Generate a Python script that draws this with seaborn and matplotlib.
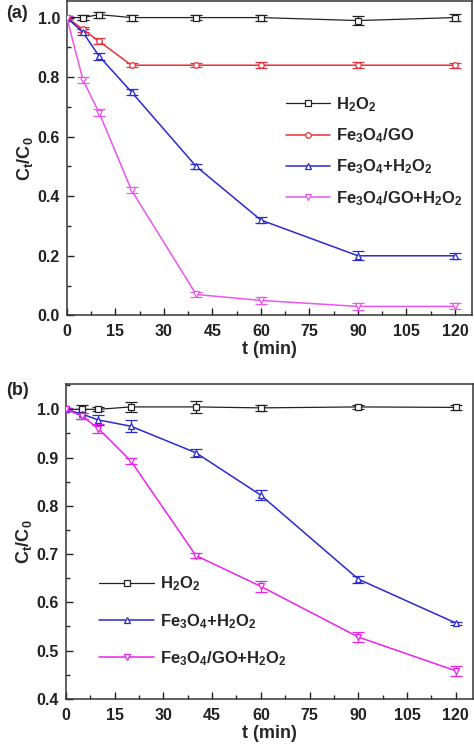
import pandas as pd
import matplotlib
matplotlib.use('Agg')
import matplotlib.pyplot as plt
import seaborn as sns
from matplotlib.ticker import MultipleLocator, FormatStrFormatter

# ---- data ----
t = [0, 5, 10, 20, 40, 60, 90, 120]

# panel (a)
a_h2o2 = [1.00, 1.00, 1.01, 1.00, 1.00, 1.00, 0.99, 1.00]
a_h2o2_err = [0.005, 0.008, 0.010, 0.010, 0.008, 0.010, 0.015, 0.012]
a_fego = [1.00, 0.96, 0.92, 0.84, 0.84, 0.84, 0.84, 0.84]
a_fego_err = [0.005, 0.010, 0.010, 0.006, 0.006, 0.010, 0.010, 0.008]
a_fe_h = [1.00, 0.95, 0.87, 0.75, 0.50, 0.32, 0.20, 0.20]
a_fe_h_err = [0.005, 0.010, 0.012, 0.010, 0.008, 0.010, 0.015, 0.010]
a_fego_h = [1.00, 0.79, 0.68, 0.42, 0.07, 0.05, 0.03, 0.03]
a_fego_h_err = [0.005, 0.010, 0.012, 0.010, 0.008, 0.012, 0.012, 0.010]

# panel (b)
b_h2o2 = [1.000, 1.000, 1.000, 1.005, 1.005, 1.003, 1.005, 1.004]
b_h2o2_err = [0.003, 0.008, 0.004, 0.010, 0.012, 0.006, 0.004, 0.005]
b_fe_h = [1.000, 0.990, 0.978, 0.965, 0.910, 0.822, 0.648, 0.557]
b_fe_h_err = [0.003, 0.010, 0.010, 0.013, 0.008, 0.010, 0.007, 0.003]
b_fego_h = [1.000, 0.986, 0.960, 0.893, 0.697, 0.633, 0.528, 0.458]
b_fego_h_err = [0.003, 0.007, 0.010, 0.006, 0.006, 0.012, 0.010, 0.011]

lbl_h2o2 = r'H$_2$O$_2$'
lbl_fego = r'Fe$_3$O$_4$/GO'
lbl_fe_h = r'Fe$_3$O$_4$+H$_2$O$_2$'
lbl_fego_h = r'Fe$_3$O$_4$/GO+H$_2$O$_2$'

# ---- style ----
sns.set_theme(style='ticks')
plt.rcParams['font.family'] = ['Liberation Sans', 'DejaVu Sans']
plt.rcParams['font.weight'] = 'bold'
plt.rcParams['mathtext.fontset'] = 'custom'
plt.rcParams['mathtext.rm'] = 'Liberation Sans:bold'
plt.rcParams['mathtext.it'] = 'Liberation Sans:bold'
plt.rcParams['mathtext.bf'] = 'Liberation Sans:bold'

fig = plt.figure(figsize=(4.74, 7.49), dpi=100)
ax_a = fig.add_axes([0.141, 0.579, 0.855, 0.419])
ax_b = fig.add_axes([0.139, 0.067, 0.859, 0.420])


def draw(ax, y, err, color, marker, label, lw=1.1):
    ax.errorbar(t, y, yerr=err, fmt='none', ecolor=color, elinewidth=0.9,
                capsize=4.5, capthick=0.9, zorder=2)
    df = pd.DataFrame({'t': t, 'c': y})
    sns.lineplot(data=df, x='t', y='c', ax=ax, color=color, marker=marker,
                 markersize=4, markerfacecolor='white', markeredgecolor=color,
                 markeredgewidth=0.9, linewidth=lw, label=label, zorder=3)


draw(ax_a, a_h2o2, a_h2o2_err, '#222222', 's', lbl_h2o2, lw=0.9)
draw(ax_a, a_fego, a_fego_err, '#e8303a', 'o', lbl_fego)
draw(ax_a, a_fe_h, a_fe_h_err, '#2a2ad0', '^', lbl_fe_h)
draw(ax_a, a_fego_h, a_fego_h_err, '#ee55ee', 'v', lbl_fego_h)

draw(ax_b, b_h2o2, b_h2o2_err, '#222222', 's', lbl_h2o2, lw=0.9)
draw(ax_b, b_fe_h, b_fe_h_err, '#2a2ad0', '^', lbl_fe_h)
draw(ax_b, b_fego_h, b_fego_h_err, '#ee22ee', 'v', lbl_fego_h)

ax_a.set_ylim(0, 1.054)
ax_a.yaxis.set_major_locator(MultipleLocator(0.2))
ax_a.yaxis.set_minor_locator(MultipleLocator(0.1))
ax_b.set_ylim(0.4, 1.052)
ax_b.yaxis.set_major_locator(MultipleLocator(0.1))
ax_b.yaxis.set_minor_locator(MultipleLocator(0.05))

for ax in (ax_a, ax_b):
    ax.set_xlim(0, 125.3)
    ax.xaxis.set_major_locator(MultipleLocator(15))
    ax.xaxis.set_minor_locator(MultipleLocator(7.5))
    ax.tick_params(which='major', direction='in', length=5, width=1,
                   labelsize=11.5, colors='#222222', pad=5)
    ax.tick_params(axis='x', which='major', pad=6.5)
    ax.tick_params(which='minor', direction='in', length=3, width=1)
    ax.yaxis.set_major_formatter(FormatStrFormatter('%.1f'))
    for lab in ax.get_xticklabels() + ax.get_yticklabels():
        lab.set_fontweight('bold')
    for sp in ax.spines.values():
        sp.set_linewidth(1.1)
        sp.set_color('#333333')
    ax.set_xlabel('t (min)', fontsize=13, fontweight='bold', labelpad=1.5)
    ax.set_ylabel(r'C$_t$/C$_0$', fontsize=13, fontweight='bold', labelpad=2)

ax_a.legend(loc='upper left', bbox_to_anchor=(0.585, 0.884),
            bbox_transform=fig.transFigure, frameon=False,
            handlelength=2.65, handletextpad=0.35, labelspacing=0.75,
            borderpad=0, prop={'weight': 'bold', 'size': 12})
ax_b.legend(loc='upper left', bbox_to_anchor=(0.192, 0.244),
            bbox_transform=fig.transFigure, frameon=False,
            handlelength=3.3, handletextpad=0.35, labelspacing=1.12,
            borderpad=0, prop={'weight': 'bold', 'size': 12})

fig.text(0.012, 0.982, '(a)', fontsize=13, fontweight='bold', ha='left', va='center')
fig.text(0.012, 0.479, '(b)', fontsize=13, fontweight='bold', ha='left', va='center')

fig.savefig('out.png', dpi=100)
